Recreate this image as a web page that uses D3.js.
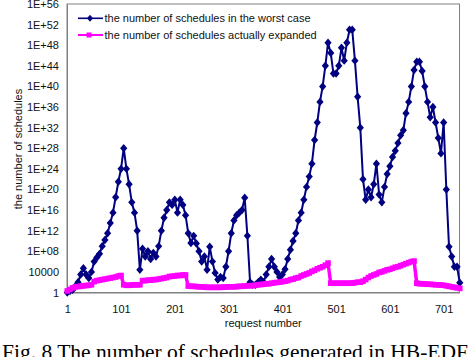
<!DOCTYPE html>
<html><head><meta charset="utf-8">
<script src="https://cdn.jsdelivr.net/npm/d3@7/dist/d3.min.js"></script>
<style>body{margin:0;background:#fff}svg{display:block}</style>
</head><body>
<svg id="chart" width="474" height="357"></svg>
<script>
// ---- data (log10 of the number of schedules, sampled every 5 requests) ----
const requestStep = 5;
const worstCaseExp = [
  0, 0.3, 0.5, 1.2, 2, 3.5, 4.7, 3.5, 2.8, 4,
  6, 6.8, 7.5, 9, 10.2, 11.5, 13.5, 15.5, 18.5, 21.5,
  24, 28, 24, 21, 17.5, 15.5, 12, 4.4, 8.5, 7,
  8, 6.5, 7.7, 7, 9, 12, 14.5, 16, 17.5, 17,
  18, 15.5, 18, 17, 15, 11.5, 9.6, 11, 9.5, 8,
  6, 7, 4.4, 8.9, 6, 3.8, 2.5, 3, 2.8, 5,
  8, 11.5, 14, 15, 15.5, 16, 18.4, 11, 2, 1.5,
  1.5, 2, 2.5, 2, 3.5, 5, 6.5, 5, 4, 3,
  3.5, 4.5, 6.5, 8.3, 10, 11.5, 14, 15.5, 18, 20.5,
  22.5, 25, 29.6, 33, 37, 40, 44, 48.5, 46.5, 42.5,
  42.5, 44, 47.5, 45, 48.5, 51, 51, 45, 38, 32,
  22, 18, 20, 18.5, 21, 25, 19, 17.5, 20.5, 23,
  24.5, 26.3, 27.5, 29, 30.5, 31.5, 34.8, 37, 40, 43.2,
  44.8, 44.8, 43, 40, 37, 34, 36, 33, 30, 27,
  33, 20, 8.9, 7, 5, 5, 1.9
];
const expandedExp = [
  0.3, 0.6, 0.9, 1.1, 1.15, 1.2, 1.3, 1.35, 1.4, 1.5,
  2.1, 2.3, 2.4, 2.5, 2.6, 2.7, 2.8, 2.9, 3.0, 3.2,
  3.3, 1.5, 1.4, 1.4, 1.45, 1.5, 1.5, 1.5, 2.3, 2.3,
  2.4, 2.4, 2.5, 2.5, 2.6, 2.7, 2.8, 2.9, 3.1, 3.15,
  3.2, 3.3, 3.3, 3.4, 3.4, 1.25, 1.2, 1.2, 1.15, 1.1,
  1.1, 1.05, 1.0, 1.0, 1.0, 1.0, 1.0, 1.0, 1.05, 1.05,
  1.1, 1.1, 1.1, 1.15, 1.2, 1.2, 1.25, 1.3, 1.3, 1.35,
  1.4, 1.5, 1.55, 1.6, 1.7, 1.7, 1.8, 1.9, 1.95, 2.0,
  2.1, 2.2, 2.3, 2.5, 2.6, 2.8, 2.9, 3.2, 3.4, 3.6,
  3.8, 4.1, 4.3, 4.6, 4.8, 5.0, 5.3, 5.7, 1.8, 1.8,
  1.8, 1.8, 1.8, 1.8, 1.8, 1.8, 1.85, 1.9, 2.0, 2.0,
  2.2, 2.5, 2.9, 3.2, 3.4, 3.6, 3.9, 4.0, 4.2, 4.4,
  4.5, 4.7, 4.9, 5.0, 5.2, 5.4, 5.6, 5.8, 6.0, 6.1,
  1.8, 1.7, 1.7, 1.65, 1.6, 1.6, 1.55, 1.5, 1.5, 1.45,
  1.4, 1.3, 1.2, 1.1, 1.0, 0.9, 0.8
];
const requests = worstCaseExp.map((_, i) => 1 + i * requestStep);
const xTickLabels = [1, 101, 201, 301, 401, 501, 601, 701];
const yTickExps = [0, 4, 8, 12, 16, 20, 24, 28, 32, 36, 40, 44, 48, 52, 56];
const seriesNames = ["the number of schedules in the worst case", "the number of schedules actually expanded"];
const seriesColors = ["#000080", "#FF00FF"];
const xTitle = "request number";
const yTitle = "the number of schedules";
const captionText = "Fig. 8 The number of schedules generated in HB-EDF";

// ---- layout ----
const L = 67, R = 459.5, T = 4, B = 292.5;
const svg = d3.select("#chart");
const font = "'Liberation Sans', Arial, sans-serif";

const x = d3.scaleLinear().domain([0.5, 730.5]).range([L, R]);
const y = d3.scaleLog().domain([1, 1e56]).range([B, T]);

function yFmt(v) {
  const e = Math.round(Math.log10(v));
  if (e === 0) return "1";
  if (e === 4) return "10000";
  return "1E+" + String(e).padStart(2, "0");
}

// plot frame
svg.append("rect").attr("x", L).attr("y", T).attr("width", R - L).attr("height", B - T)
  .attr("fill", "none").attr("stroke", "#808080").attr("stroke-width", 1);

// axes
const yAxis = svg.append("g").attr("transform", `translate(${L},0)`)
  .call(d3.axisLeft(y).tickValues(yTickExps.map(e => Math.pow(10, e))).tickFormat(yFmt).tickSize(0).tickPadding(8));
const xAxis = svg.append("g").attr("transform", `translate(0,${B})`)
  .call(d3.axisBottom(x).tickValues(xTickLabels).tickFormat(d3.format("d")).tickSize(0).tickPadding(12.5));
[yAxis, xAxis].forEach(g => {
  g.select(".domain").attr("stroke", "#808080");
  g.selectAll("text").attr("font-family", font).attr("font-size", 11).attr("fill", "#111");
});

// axis titles
svg.append("text").attr("x", (L + R) / 2).attr("y", 326.5).attr("text-anchor", "middle")
  .attr("font-family", font).attr("font-size", 11).attr("fill", "#111").text(xTitle);
svg.append("text").attr("transform", "translate(21.5,149) rotate(-90)").attr("text-anchor", "middle")
  .attr("font-family", font).attr("font-size", 11).attr("fill", "#111").text(yTitle);

// series
const line = d3.line().x((d, i) => x(requests[i])).y(d => y(Math.pow(10, d)));
const diamond = "M0,-4.2L3.6,0L0,4.2L-3.6,0Z";

// worst case (navy diamonds)
svg.append("path").datum(worstCaseExp).attr("d", line).attr("fill", "none")
  .attr("stroke", seriesColors[0]).attr("stroke-width", 2);
svg.append("g").selectAll("path").data(worstCaseExp).join("path")
  .attr("d", diamond).attr("fill", seriesColors[0])
  .attr("transform", (d, i) => `translate(${x(requests[i])},${y(Math.pow(10, d))})`);

// actually expanded (magenta squares)
svg.append("path").datum(expandedExp).attr("d", line).attr("fill", "none")
  .attr("stroke", seriesColors[1]).attr("stroke-width", 3.5);
svg.append("g").selectAll("rect").data(expandedExp).join("rect")
  .attr("x", (d, i) => x(requests[i]) - 2.8).attr("y", d => y(Math.pow(10, d)) - 2.8)
  .attr("width", 5.6).attr("height", 5.6).attr("fill", seriesColors[1]);

// legend
const legY = [18.3, 35];
seriesNames.forEach((name, k) => {
  const g = svg.append("g");
  g.append("line").attr("x1", 78).attr("x2", 103).attr("y1", legY[k]).attr("y2", legY[k])
    .attr("stroke", seriesColors[k]).attr("stroke-width", k === 0 ? 1.6 : 2);
  if (k === 0) g.append("path").attr("d", "M0,-3.5L3,0L0,3.5L-3,0Z").attr("fill", seriesColors[k])
    .attr("transform", `translate(90,${legY[k]})`);
  else g.append("rect").attr("x", 86.5).attr("y", legY[k] - 2.5).attr("width", 5).attr("height", 5)
    .attr("fill", seriesColors[k]);
  g.append("text").attr("x", 104.5).attr("y", legY[k] + 3.6)
    .attr("font-family", font).attr("font-size", 11).attr("fill", "#111").text(name);
});

// caption
svg.append("text").attr("x", 2).attr("y", 359)
  .attr("font-family", "'Liberation Serif', 'Times New Roman', serif").attr("font-size", 21.5)
  .text(captionText);
</script>
</body></html>
